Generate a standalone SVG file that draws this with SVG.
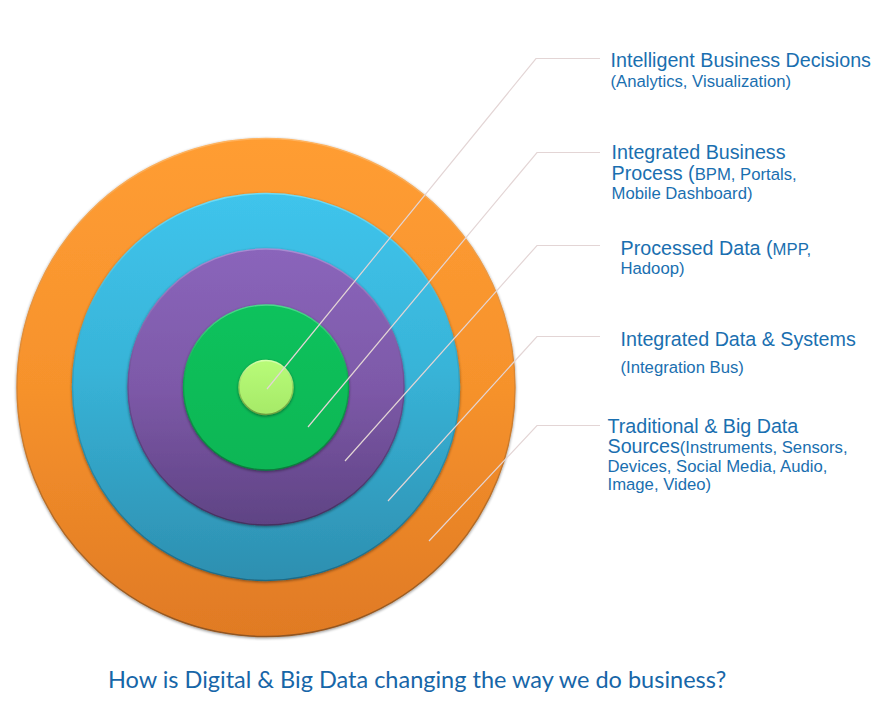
<svg xmlns="http://www.w3.org/2000/svg" width="885" height="709" viewBox="0 0 885 709">
<style>
text{font-family:"Liberation Sans",Arial,sans-serif;fill:#1a6fb0}
.m{font-size:19.7px}
.s{font-size:16.7px}
.t{font-family:"Lato","Open Sans",sans-serif;font-size:23.5px;fill:#1766a8}
.c{stroke-width:1.4}
.lead{fill:none;stroke:#e3d5d5;stroke-width:1.2}
</style>
<defs>
<linearGradient id="o" x1="0" y1="0" x2="0" y2="1"><stop offset="0" stop-color="#ff9d33"/><stop offset="0.5" stop-color="#f6922c"/><stop offset="1" stop-color="#e07a24"/></linearGradient>
<linearGradient id="b" x1="0" y1="0" x2="0" y2="1"><stop offset="0" stop-color="#3fc4ec"/><stop offset="0.45" stop-color="#38b4d8"/><stop offset="1" stop-color="#2d8fb0"/></linearGradient>
<linearGradient id="p" x1="0" y1="0" x2="0" y2="1"><stop offset="0" stop-color="#8a65bb"/><stop offset="0.5" stop-color="#7d59a8"/><stop offset="1" stop-color="#5f4384"/></linearGradient>
<linearGradient id="g" x1="0" y1="0" x2="0" y2="1"><stop offset="0" stop-color="#0cc25c"/><stop offset="1" stop-color="#0bb655"/></linearGradient>
<linearGradient id="y" x1="0" y1="0" x2="0" y2="1"><stop offset="0" stop-color="#b8fb78"/><stop offset="1" stop-color="#a6ea68"/></linearGradient>
<linearGradient id="os" x1="0" y1="0" x2="0" y2="1"><stop offset="0" stop-color="#ffb35e"/><stop offset="0.5" stop-color="#d9842f"/><stop offset="1" stop-color="#8f5420"/></linearGradient>
<linearGradient id="bs" x1="0" y1="0" x2="0" y2="1"><stop offset="0" stop-color="#6fdcf6"/><stop offset="0.5" stop-color="#2f9dbd"/><stop offset="1" stop-color="#1f6a85"/></linearGradient>
<linearGradient id="ps" x1="0" y1="0" x2="0" y2="1"><stop offset="0" stop-color="#a98bd2"/><stop offset="0.5" stop-color="#6a4c92"/><stop offset="1" stop-color="#45315f"/></linearGradient>
<linearGradient id="gs" x1="0" y1="0" x2="0" y2="1"><stop offset="0" stop-color="#4bd98b"/><stop offset="0.5" stop-color="#0a9f4b"/><stop offset="1" stop-color="#087c3c"/></linearGradient>
<linearGradient id="ys" x1="0" y1="0" x2="0" y2="1"><stop offset="0" stop-color="#d6ffab"/><stop offset="0.5" stop-color="#94d25a"/><stop offset="1" stop-color="#6c9c3f"/></linearGradient>
<filter id="sh" x="-10%" y="-10%" width="120%" height="120%"><feGaussianBlur in="SourceAlpha" stdDeviation="1.6"/><feOffset dy="1"/><feComponentTransfer><feFuncA type="linear" slope="0.45"/></feComponentTransfer><feMerge><feMergeNode/><feMergeNode in="SourceGraphic"/></feMerge></filter>
</defs>
<g id="ring-sources"><circle class="c" cx="266" cy="387.500" r="249" fill="url(#o)" stroke="url(#os)" filter="url(#sh)"/></g>
<g id="ring-integrated-data"><circle class="c" cx="266" cy="387" r="193.500" fill="url(#b)" stroke="url(#bs)" filter="url(#sh)"/></g>
<g id="ring-processed"><circle class="c" cx="266" cy="387" r="138" fill="url(#p)" stroke="url(#ps)" filter="url(#sh)"/></g>
<g id="ring-process"><circle class="c" cx="266" cy="387.500" r="82.500" fill="url(#g)" stroke="url(#gs)" filter="url(#sh)"/></g>
<g id="ring-decisions"><circle class="c" cx="266" cy="387.500" r="27" fill="url(#y)" stroke="url(#ys)" filter="url(#sh)"/></g>
<g id="connectors">
<path class="lead" d="M267 389L536 58.500H600"/>
<path class="lead" d="M308 427L537 152.500H600"/>
<path class="lead" d="M345 461L537 245.500H600"/>
<path class="lead" d="M388 501L537 336.500H600"/>
<path class="lead" d="M429 541L537 425.500H600"/>
</g>
<g id="label-decisions">
<text class="m" x="610.500" y="67">Intelligent Business Decisions</text>
<text class="s" x="610.500" y="87">(Analytics, Visualization)</text>
</g>
<g id="label-process">
<text class="m" x="611.500" y="159">Integrated Business</text>
<text class="m" x="611.500" y="180">Process (<tspan class="s">BPM, Portals,</tspan></text>
<text class="s" x="611.500" y="199">Mobile Dashboard)</text>
</g>
<g id="label-processed">
<text class="m" x="620.500" y="255">Processed Data (<tspan class="s">MPP,</tspan></text>
<text class="s" x="620.500" y="274">Hadoop)</text>
</g>
<g id="label-integrated-data">
<text class="m" x="620.500" y="346">Integrated Data &amp; Systems</text>
<text class="s" x="620.500" y="373">(Integration Bus)</text>
</g>
<g id="label-sources">
<text class="m" x="607.500" y="433">Traditional &amp; Big Data</text>
<text class="m" x="607.500" y="453">Sources<tspan class="s">(Instruments, Sensors,</tspan></text>
<text class="s" x="607.500" y="472">Devices, Social Media, Audio,</text>
<text class="s" x="607.500" y="490">Image, Video)</text>
</g>
<text id="caption" class="t" x="108" y="688">How is Digital &amp; Big Data changing the way we do business?</text>
</svg>
